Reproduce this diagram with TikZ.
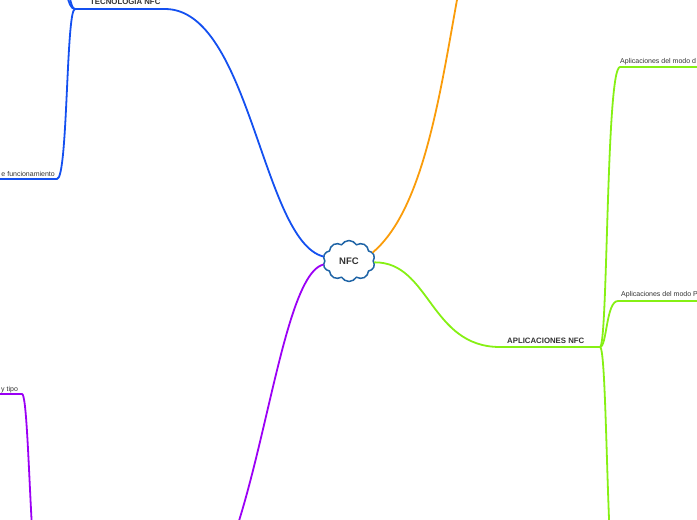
\documentclass[tikz,border=0pt]{standalone}
\usepackage{fontspec}
\setmainfont{Liberation Sans}
\usetikzlibrary{shapes.symbols}
\definecolor{cblue}{HTML}{1450F0}
\definecolor{corange}{HTML}{FA9C0A}
\definecolor{cgreen}{HTML}{86F014}
\definecolor{cpurple}{HTML}{9B00F5}
\definecolor{ccloud}{HTML}{1F64A6}
\definecolor{txt}{HTML}{333333}
\begin{document}
\begin{tikzpicture}[x=1pt,y=-1pt,line cap=round,line join=round,
  br/.style={line width=1.8pt},
  lab/.style={font=\fontsize{7}{8}\selectfont,text=txt,inner sep=0pt,anchor=base west},
  mainlab/.style={font=\bfseries\fontsize{7.8}{9}\selectfont,text=txt,inner sep=0pt,anchor=base west},
  rootnode/.style={cloud,cloud puffs=10,cloud puff arc=120,aspect=1.3,minimum width=52pt,minimum height=41pt,inner sep=0pt,draw=ccloud,line width=1.5pt,fill=white,text=txt,font=\bfseries\fontsize{9.5}{11}\selectfont}]
\useasboundingbox (0,0) rectangle (697,520);
\clip (0,0) rectangle (697,520);
% coordinates
\coordinate (jb) at (75,9);
\coordinate (jg) at (600,347);
\coordinate (jo) at (505,-140);
\coordinate (jp) at (170,620);
\coordinate (jp2) at (45,620);
\coordinate (bup1) at (57,-60);
\coordinate (bup2) at (57,-20);
\coordinate (bdown) at (-2,179);
\coordinate (gtop) at (700,67);
\coordinate (gmid) at (700,301);
\coordinate (gbot) at (620,620);
\coordinate (ptip) at (-2,394);
% labels
\node[mainlab] (tec) at (90,4) {TECNOLOGIA NFC};
\node[mainlab] (apl) at (507,343) {APLICACIONES NFC};
\node[lab,anchor=base east] (func) at (55,176) {e funcionamiento};
\node[lab] (tipo) at (1,391) {y tipo};
\node[lab] (modod) at (620,63.5) {Aplicaciones del modo d};
\node[lab] (modop) at (621,296.5) {Aplicaciones del modo P};
% root
\node[rootnode] (nfc) at (349,261) {NFC};
% blue
\draw[br,cblue] (nfc.170) .. controls (262,240) and (250,9) .. (165,9) -- (jb);
\draw[br,cblue] (jb) .. controls (66,9) and (68,179) .. (57,179) -- (bdown);
\draw[br,cblue] (jb) .. controls (66,9) and (68,-60) .. (bup1);
\draw[br,cblue] (jb) .. controls (66,9) and (68,-20) .. (bup2);
% orange
\draw[br,corange] (nfc.20) .. controls (458,180) and (447,-100) .. (jo);
% green
\draw[br,cgreen] (nfc.-3) .. controls (430,262) and (430,347) .. (500,347) -- (jg);
\draw[br,cgreen] (jg) .. controls (608,347) and (606,67) .. (620,67) -- (gtop);
\draw[br,cgreen] (jg) .. controls (607,347) and (606,301) .. (618,301) -- (gmid);
\draw[br,cgreen] (jg) .. controls (608,347) and (606,620) .. (gbot);
% purple
\draw[br,cpurple] (nfc.188) .. controls (270,280) and (255,620) .. (jp);
\draw[br,cpurple] (ptip) -- (22,394) .. controls (30,394) and (30,620) .. (jp2);
\end{tikzpicture}
\end{document}
